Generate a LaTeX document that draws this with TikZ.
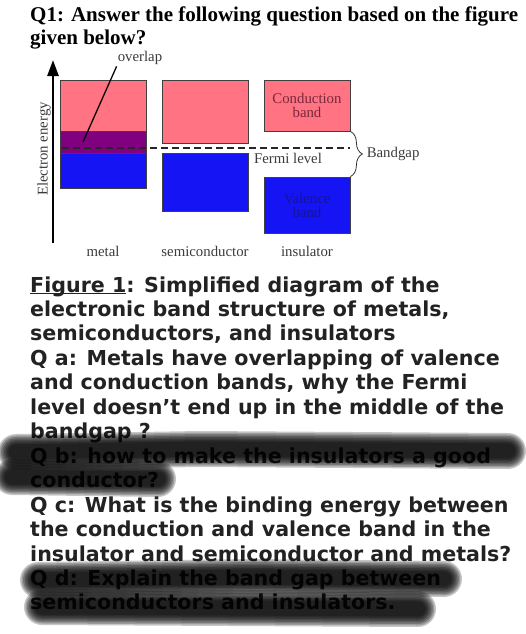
\documentclass[tikz,border=0pt]{standalone}
\usepackage{fontspec}
\setmainfont{Liberation Serif}
\newfontfamily\bodyfont{DejaVu Sans}
\usetikzlibrary{arrows.meta,decorations.pathreplacing}

\definecolor{cbandpink}{RGB}{255,115,130}
\definecolor{overlappurple}{RGB}{128,0,128}
\definecolor{vbandblue}{RGB}{20,20,245}
\definecolor{labelgray}{RGB}{60,60,60}
\definecolor{bodygray}{RGB}{34,34,34}

\tikzset{
  band/.style={draw=black!75, line width=0.8pt, inner sep=0pt, minimum width=86pt},
  lbl/.style={font=\fontsize{14.8}{15}\selectfont, text=labelgray, inner sep=1pt},
  body/.style={font=\bodyfont\bfseries\fontsize{20.6}{24}\selectfont, text=bodygray, anchor=base west, inner sep=0pt},
  scribble/.style={line cap=round, line join=round, draw=black, opacity=0.22},
}

\begin{document}
\begin{tikzpicture}[x=1pt, y=-1pt]
  \useasboundingbox[fill=white] (0,0) rectangle (525,634);

  \node[font=\bfseries\fontsize{21}{23}\selectfont, anchor=base west, inner sep=0pt] (title1) at (30,22) {Q1: Answer the following question based on the figure};
  \node[font=\bfseries\fontsize{21}{23}\selectfont, anchor=base west, inner sep=0pt] (title2) at (30,45) {given below?};

  \node[band, fill=cbandpink, minimum height=51pt] (metal-cb) at (103,105.5) {};
  \node[band, fill=overlappurple, minimum height=22pt] (metal-ov) at (103,142) {};
  \node[band, fill=vbandblue, minimum height=35pt] (metal-vb) at (103,170.5) {};
  \node[band, fill=cbandpink, minimum height=63pt] (semi-cb) at (205,111.5) {};
  \node[band, fill=vbandblue, minimum height=58pt] (semi-vb) at (205,182) {};
  \node[band, fill=cbandpink, minimum height=51pt, align=center, font=\fontsize{14.8}{14}\selectfont, text={rgb,255:red,120;green,40;blue,60}] (ins-cb) at (307,105.5) {Conduction\\band};
  \node[band, fill=vbandblue, minimum height=56pt, align=center, font=\fontsize{14.8}{14}\selectfont, text={rgb,255:red,20;green,20;blue,150}] (ins-vb) at (307,205) {Valence\\band};

  \coordinate (fermi-l) at (62,148);
  \coordinate (fermi-r) at (350,148);
  \draw[line width=2pt, dash pattern=on 7pt off 4pt, black!85] (fermi-l) -- (fermi-r);
  \node[lbl] (fermi) at (288,158) {Fermi level};

  \draw[black!80, line width=0.8pt, decorate, decoration={brace, amplitude=12pt}] (ins-cb.south east) -- (ins-vb.north east) node[lbl, midway, right=15pt] (bandgap) {Bandgap};

  \node[lbl, anchor=base] (overlap) at (140,62) {overlap};
  \coordinate (overlap-tip) at (83,142);
  \draw[line width=1.3pt] (overlap.south west) -- (overlap-tip);

  \coordinate (axis-base) at (53,243);
  \coordinate (axis-top) at (53,60);
  \draw[line width=2.5pt, -{Triangle[length=16pt, width=11pt]}] (axis-base) -- (axis-top);
  \node[lbl, rotate=90] (energy) at (44,149) {Electron energy};

  \node[lbl, anchor=base] (metal) at (103,256) {metal};
  \node[lbl, anchor=base] (semi) at (205,256) {semiconductor};
  \node[lbl, anchor=base] (ins) at (307,256) {insulator};

  \foreach \txt [count=\i] in {
      {\underline{\smash{Figure 1}}: Simplified diagram of the},
      {electronic band structure of metals,},
      {semiconductors, and insulators},
      {Q a: Metals have overlapping of valence},
      {and conduction bands, why the Fermi},
      {level doesn’t end up in the middle of the},
      {bandgap ?},
      {Q b: how to make the insulators a good},
      {conductor?},
      {Q c: What is the binding energy between},
      {the conduction and valence band in the},
      {insulator and semiconductor and metals?},
      {Q d: Explain the band gap between},
      {semiconductors and insulators.}}
    \node[body] (line\i) at (30,{292+24.46*(\i-1)}) {\txt};

  \foreach \w in {36,33,...,15} {
    \draw[scribble, line width=\w pt] (16,452) -- (200,449) -- (508,451);
    \draw[scribble, line width=\w pt] (12,477) -- (158,479);
    \draw[scribble, line width=\w pt] (38,580) -- (250,577) -- (444,579);
    \draw[scribble, line width=\w pt] (42,607) -- (418,609);
  }
\end{tikzpicture}
\end{document}
